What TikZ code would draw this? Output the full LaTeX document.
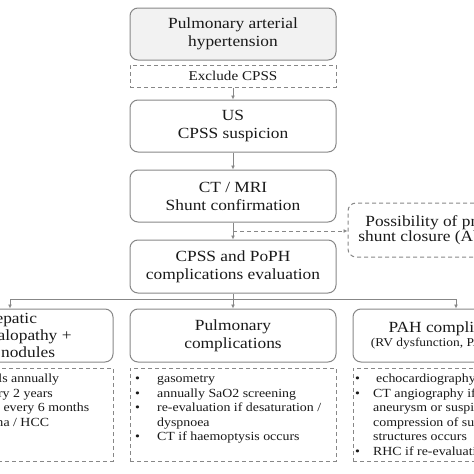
\documentclass[tikz,border=0pt]{standalone}
\usepackage{fontspec}
\setmainfont{Liberation Serif}[FakeStretch=1.12]
\usepackage{tikz}
\usetikzlibrary{arrows.meta}
\definecolor{framegray}{RGB}{135,135,135}
\definecolor{headfill}{RGB}{242,242,242}
\definecolor{inkgray}{RGB}{25,25,25}
\tikzset{>={Latex[length=4pt,width=4pt]}}
\tikzset{
  box/.style={draw=framegray, line width=1pt, rounded corners=8pt, minimum width=206pt, minimum height=52pt, align=center, inner sep=0pt, font=\fontsize{15.5}{18}\selectfont},
  dashbox/.style={draw=framegray, line width=1pt, dash pattern=on 4pt off 3pt, minimum width=206pt, inner sep=0pt},
  bullets/.style={align=left, inner sep=0pt, anchor=north west, font=\fontsize{12.4}{14.6}\selectfont},
  link/.style={->, draw=framegray, line width=0.9pt}
}
\newcommand{\itm}[1][22pt]{\makebox[#1][l]{\textbullet}}

\begin{document}
\begin{tikzpicture}[x=1pt, y=-1pt, text=inkgray]
      \useasboundingbox (0,0) rectangle (474,474);
      \clip (0,0) rectangle (474,474);
      \node[box, fill=headfill] (pulmhyp) at (233,34) {Pulmonary arterial\\hypertension};
      \node[dashbox, minimum height=22pt, font=\fontsize{13.5}{16}\selectfont] (excl) at (233,76) {Exclude CPSS};
      \node[box] (us) at (233,126) {US\\CPSS suspicion};
      \node[box] (ctmri) at (233,196) {CT / MRI\\Shunt confirmation};
      \node[box, minimum height=53pt] (eval) at (233,266.5) {CPSS and PoPH\\complications evaluation};
      \node[box, dash pattern=on 4pt off 3pt, minimum width=218pt, minimum height=54pt, font=\fontsize{15.5}{15}\selectfont] (closure) at (457,230) {Possibility of prophylactic\\shunt closure (Abernethy II)};
      \node[box, minimum height=53pt, font=\fontsize{15.5}{17}\selectfont] (hepat) at (10,335.5) {Hepatic\\encephalopathy +\\liver nodules};
      \node[box, minimum height=53pt] (pulmc) at (233,335.5) {Pulmonary\\complications};
      \node[box, minimum height=53pt] (pahc) at (456,335.5) {PAH complications\\[-4pt]{\fontsize{12}{14}\selectfont (RV dysfunction, PA dilatation)}};
      \node[dashbox, minimum height=93pt] (hepatl) at (10,414.5) {};
      \node[dashbox, minimum height=93pt] (pulml) at (233,414.5) {};
      \node[dashbox, minimum height=93pt] (pahl) at (456,414.5) {};
      \node[bullets] (hepatt) at (-95,372) {\strut\itm[15pt]ammonia levels annually\\
        \itm[15pt]liver MRI every 2 years\\
        \itm[15pt]abdominal US every 6 months\\
        \hspace*{15pt}risk of adenoma / HCC};
      \node[bullets] (pulmt) at (135,372) {\strut\itm gasometry\\
        \itm annually SaO2 screening\\
        \itm re-evaluation if desaturation /\\
        \hspace*{22pt}dyspnoea\\
        \itm CT if haemoptysis occurs};
      \node[bullets] (pahct) at (355,372) {\strut\itm[18pt]\hspace{3pt}echocardiography\\
        \itm[18pt]CT angiography if PA\\
        \hspace*{18pt}aneurysm or suspicion of\\
        \hspace*{18pt}compression of surrounding\\
        \hspace*{18pt}structures occurs\\
        \itm[18pt]RHC if re-evaluation needed};
      \draw[link] (excl) -- (us);
      \draw[link] (us) -- (ctmri);
      \draw[link] (ctmri) -- coordinate (split) (eval);
      \draw[link, dash pattern=on 4pt off 3pt] (split) -- (split -| closure.west);
      \draw[draw=framegray, line width=0.9pt] (eval.south) -- ++(0,6) coordinate (bus);
      \draw[link] (bus) -| (hepat);
      \draw[link] (bus) -- (pulmc);
      \draw[link] (bus) -| (pahc);
\end{tikzpicture}
\end{document}
